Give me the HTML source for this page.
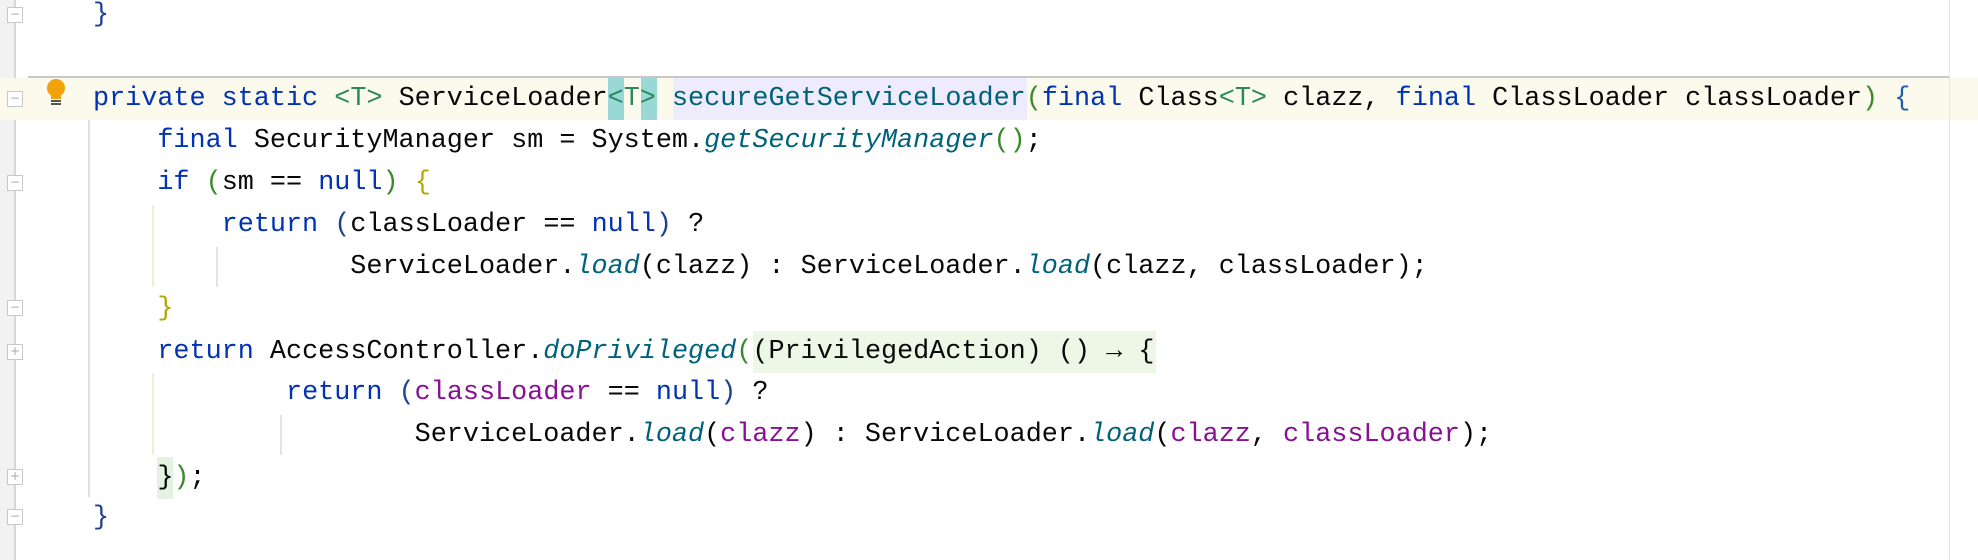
<!DOCTYPE html>
<html><head><meta charset="utf-8"><style>
html,body{margin:0;padding:0;background:#fff;width:1978px;height:560px;overflow:hidden;position:relative}
.l{position:absolute;left:93px;height:42px;line-height:42px;white-space:pre;font-family:"Liberation Mono","DejaVu Sans Mono",monospace;font-size:26.8px;color:#080808;z-index:2}
.k{color:#0033b3}.m{color:#00627a;font-style:italic}.f{color:#00627a}.g{color:#3a8a2a}.t{color:#2a8a5a}
.y{color:#b0a800}.b{color:#1f3f8f}.p{color:#871094}.c{color:#1f5faa}
.abs{position:absolute}
.fold{position:absolute;left:7px;width:16px;height:16px;border:1.5px solid #c8c8c8;background:#fff;box-sizing:border-box;z-index:3;font:12px "DejaVu Sans",sans-serif;color:#aaa;text-align:center;line-height:13px}
</style></head><body>
<div class="abs" style="left:0;top:0;width:14px;height:560px;background:#f2f2f2"></div>
<div class="abs" style="left:14px;top:0;width:2px;height:560px;background:#d8d8d8"></div>
<div class="abs" style="left:0;top:78px;width:1978px;height:42px;background:#fcfaed"></div>
<div class="abs" style="left:28px;top:76px;width:1921px;height:2px;background:#c8c8c8"></div>
<div class="abs" style="left:1949px;top:0;width:1px;height:560px;background:#e4e4e4"></div>
<!-- highlights -->
<div class="abs" style="left:608px;top:78px;width:16px;height:42px;background:#9ad8d8"></div>
<div class="abs" style="left:641px;top:78px;width:16px;height:42px;background:#9ad8d8"></div>
<div class="abs" style="left:673px;top:78px;width:354px;height:42px;background:#edebfc"></div>
<div class="abs" style="left:753px;top:331px;width:403px;height:42px;background:#edf7e6"></div>
<div class="abs" style="left:157px;top:457px;width:16px;height:42px;background:#e4f2e0"></div>
<!-- guides -->
<div class="abs" style="left:88px;top:120px;width:2px;height:377px;background:#dde0e8"></div>
<div class="abs" style="left:152px;top:205px;width:2px;height:82px;background:#efefd5"></div>
<div class="abs" style="left:216px;top:247px;width:2px;height:40px;background:#e4e4e4"></div>
<div class="abs" style="left:152px;top:373px;width:2px;height:82px;background:#efefd5"></div>
<div class="abs" style="left:280px;top:415px;width:2px;height:40px;background:#e4e4e4"></div>
<!-- bulb -->
<div class="abs" style="left:47px;top:79px;width:18px;height:18px;border-radius:50%;background:#f0a30a"></div>
<div class="abs" style="left:51px;top:94px;width:10px;height:5px;background:#f0a30a"></div>
<div class="abs" style="left:51px;top:100px;width:10px;height:1.5px;background:#555"></div>
<div class="abs" style="left:51px;top:103px;width:10px;height:1.5px;background:#555"></div>
<!-- folds -->
<div class="fold" style="top:7px">−</div>
<div class="fold" style="top:91px">−</div>
<div class="fold" style="top:175px">−</div>
<div class="fold" style="top:300px">−</div>
<div class="fold" style="top:344px">+</div>
<div class="fold" style="top:469px">+</div>
<div class="fold" style="top:509px">−</div>

<div class="l" style="top:-6px"><span class="b">}</span></div>
<div class="l" style="top:78px"><span class="k">private static</span> <span class="t">&lt;T&gt;</span> ServiceLoader<span class="t">&lt;T&gt;</span> <span class="f">secureGetServiceLoader</span><span class="g">(</span><span class="k">final</span> Class<span class="t">&lt;T&gt;</span> clazz, <span class="k">final</span> ClassLoader classLoader<span class="g">)</span> <span class="c">{</span></div>
<div class="l" style="top:120px">    <span class="k">final</span> SecurityManager sm = System.<span class="m">getSecurityManager</span><span class="g">()</span>;</div>
<div class="l" style="top:162px">    <span class="k">if</span> <span class="g">(</span>sm == <span class="k">null</span><span class="g">)</span> <span class="y">{</span></div>
<div class="l" style="top:204px">        <span class="k">return</span> <span class="b">(</span>classLoader == <span class="k">null</span><span class="b">)</span> ?</div>
<div class="l" style="top:246px">                ServiceLoader.<span class="m">load</span>(clazz) : ServiceLoader.<span class="m">load</span>(clazz, classLoader);</div>
<div class="l" style="top:288px">    <span class="y">}</span></div>
<div class="l" style="top:331px">    <span class="k">return</span> AccessController.<span class="m">doPrivileged</span><span class="g">(</span>(PrivilegedAction) () → {</div>
<div class="l" style="top:372px">            <span class="k">return</span> <span class="b">(</span><span class="p">classLoader</span> == <span class="k">null</span><span class="b">)</span> ?</div>
<div class="l" style="top:414px">                    ServiceLoader.<span class="m">load</span>(<span class="p">clazz</span>) : ServiceLoader.<span class="m">load</span>(<span class="p">clazz</span>, <span class="p">classLoader</span>);</div>
<div class="l" style="top:457px">    }<span class="g">)</span>;</div>
<div class="l" style="top:497px"><span class="b">}</span></div>
</body></html>
